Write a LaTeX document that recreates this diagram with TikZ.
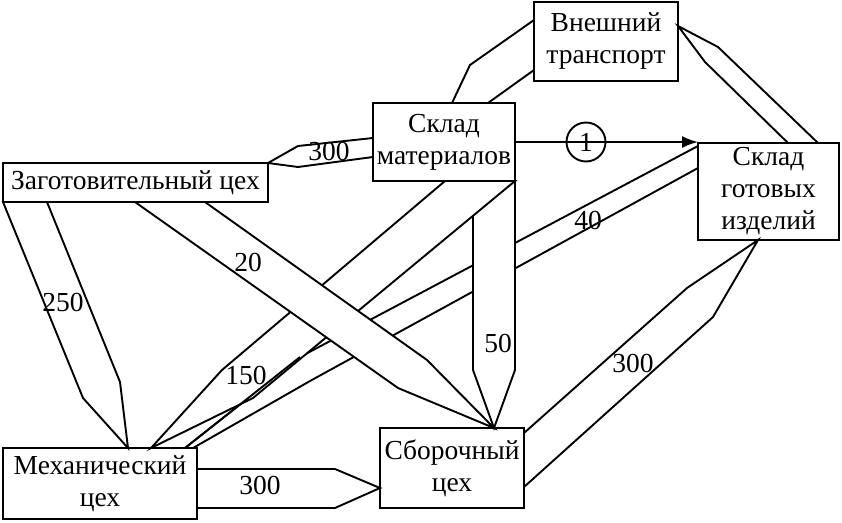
\documentclass[tikz,border=0pt]{standalone}
\usepackage{fontspec}
\setmainfont{Liberation Serif}
\usetikzlibrary{calc,arrows.meta,backgrounds}
\begin{document}
\begin{tikzpicture}[x=1pt,y=-1pt,
  box/.style={draw,line width=1.9pt,rectangle,inner sep=0pt,outer sep=0pt,align=center,font={\fontsize{27.5}{32}\selectfont}},
  band/.style={draw,fill=white,line width=1.9pt,line join=miter},
  edge/.style={line width=1.9pt},
  lbl/.style={inner sep=0pt,font={\fontsize{27.5}{27.5}\selectfont}}]
\useasboundingbox (0,0) rectangle (842,522);
% boxes
\node[box,minimum width=265pt,minimum height=39pt] (zag) at (135.5,182.5) {Заготовительный цех};
\node[box,minimum width=142pt,minimum height=78pt] (mat) at (444,142) {Склад\\материалов};
\node[box,minimum width=144pt,minimum height=79pt] (vn) at (606,41.5) {Внешний\\транспорт};
\node[box,minimum width=141pt,minimum height=97pt] (got) at (768.5,191.5) {Склад\\готовых\\изделий};
\node[box,minimum width=194pt,minimum height=71pt] (mech) at (100,483.5) {Механический\\цех};
\node[box,minimum width=144pt,minimum height=80pt] (sbor) at (452,468) {Сборочный\\цех};
% bend points
\coordinate (b1u) at (298,146); \coordinate (b1l) at (298,167);
\coordinate (b3u) at (470,65);
\coordinate (b4u) at (718,47); \coordinate (b4l) at (705,62);
\coordinate (b5l) at (83,398); \coordinate (b5r) at (120,382);
\coordinate (b6l) at (398,388); \coordinate (b6r) at (427,360);
\coordinate (b7u) at (222,370); \coordinate (b7l) at (253,398);
\coordinate (b8u) at (300,357); \coordinate (b8l) at (310,381);
\coordinate (b9u) at (687,288); \coordinate (b9l) at (713,317);
\coordinate (b10u) at (335,469); \coordinate (b10l) at (335,508);
\coordinate (b11l) at (473,370); \coordinate (b11r) at (515,370);
% tips
\coordinate (t5) at ($(mech.north west)+(125,0)$);
\coordinate (t6) at ($(sbor.north west)+(114,0)$);
\coordinate (t7) at ($(mech.north west)+(148,0)$);
\coordinate (t8a) at ($(mech.north west)+(182,0)$);
\coordinate (t8b) at ($(mech.north west)+(190,0)$);
\begin{pgfonlayer}{background}
% 40: got -> mech
\draw[band] ($(got.north west)+(0,3)$) -- (b8u) -- (t8a) -- (t8b) -- (b8l) -- ($(got.north west)+(0,25)$) -- cycle;
% 50: mat -> sbor
\draw[band] ($(mat.south west)+(100,0)$) -- (b11l) -- (t6) -- (b11r) -- (mat.south east) -- cycle;
% 150: mat -> mech
\draw[band] ($(mat.south west)+(72,0)$) -- (b7u) -- (t7) -- (b7l) -- (mat.south east) -- cycle;
\draw[edge] (b8u) -- (t8a);
% 20: zag -> sbor
\draw[band] ($(zag.south west)+(132,0)$) -- (b6l) -- (t6) -- (b6r) -- ($(zag.south west)+(202,0)$) -- cycle;
% 250: zag -> mech
\draw[band] (zag.south west) -- (b5l) -- (t5) -- (b5r) -- ($(zag.south west)+(44,0)$) -- cycle;
% 300: mat -> zag
\draw[band] ($(mat.north west)+(0,35)$) -- (b1u) -- (zag.north east) -- (b1l) -- ($(mat.north west)+(0,54)$) -- cycle;
% vn -> mat
\draw[band] ($(vn.north west)+(0,18)$) -- (b3u) -- ($(mat.north west)+(79,0)$) -- ($(mat.north west)+(115,0)$) -- ($(vn.north west)+(0,68)$) -- cycle;
% got -> vn
\draw[band] ($(vn.north east)+(0,24)$) -- (b4u) -- ($(got.north west)+(120,0)$) -- ($(got.north west)+(90,0)$) -- (b4l) -- cycle;
% 300: sbor -> got
\draw[band] ($(sbor.north east)+(0,5)$) -- (b9u) -- ($(got.south west)+(60,0)$) -- (b9l) -- ($(sbor.north east)+(0,59)$) -- cycle;
% 300: mech -> sbor
\draw[band] ($(mech.north east)+(0,21)$) -- (b10u) -- ($(sbor.north west)+(0,60)$) -- (b10l) -- ($(mech.north east)+(0,60)$) -- cycle;
\end{pgfonlayer}
% arrow mat -> got
\draw[edge,-{Latex[length=16pt,width=12pt]}] (mat.east) -- (mat.east -| got.west);
\node[draw,circle,line width=1.9pt,minimum size=39pt,inner sep=0pt,font={\fontsize{27.5}{27.5}\selectfont}] (c1) at (586,142) {1};
% labels
\node[lbl] (l300a) at (329,151) {300};
\node[lbl] (l250) at (63,302) {250};
\node[lbl] (l20) at (248,262) {20};
\node[lbl] (l150) at (246,375) {150};
\node[lbl] (l40) at (588,220) {40};
\node[lbl] (l50) at (498,343) {50};
\node[lbl] (l300b) at (633,363) {300};
\node[lbl] (l300c) at (260,485) {300};
\end{tikzpicture}
\end{document}
